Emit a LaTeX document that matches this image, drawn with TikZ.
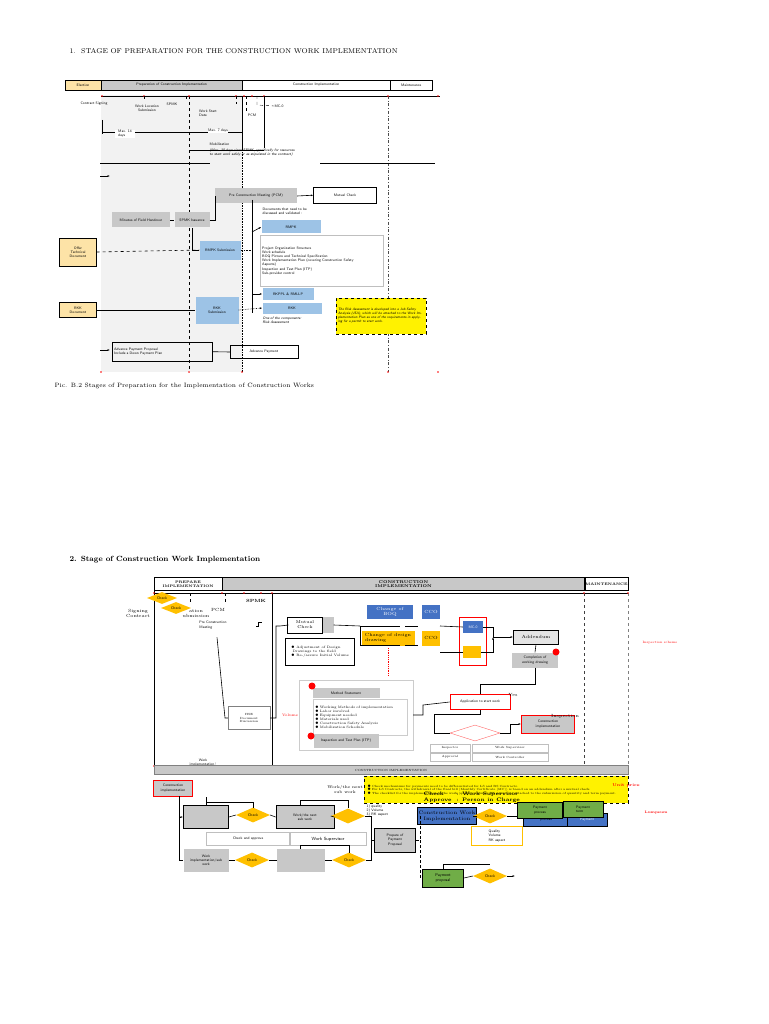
\documentclass[tikz,border=0pt]{standalone}
\usetikzlibrary{positioning, shapes.geometric, arrows.meta, calc}
\definecolor{hdryellow}{HTML}{FDE3A7}
\definecolor{hdrgray}{HTML}{C8C8C8}
\definecolor{lightblue}{HTML}{9DC3E6}
\definecolor{midblue}{HTML}{4472C4}
\definecolor{amber}{HTML}{FFC000}
\definecolor{bggray}{HTML}{F2F2F2}
\definecolor{okgreen}{HTML}{70AD47}
\tikzset{
  txt/.style={font=\fontsize{3.6}{4.2}\selectfont\sffamily, align=left, inner sep=0.5pt},
  stxt/.style={font=\fontsize{4.5}{5}\selectfont, align=center, inner sep=0.5pt},
  box/.style={draw, line width=0.4pt, font=\fontsize{3.6}{4.2}\selectfont\sffamily, align=center, inner sep=1pt},
  gbox/.style={box, draw=none, fill=hdrgray},
  bbox/.style={box, draw=none, fill=lightblue},
  ybox/.style={box, fill=hdryellow},
  rbox/.style={box, draw=red, line width=0.8pt},
  chk/.style={diamond, aspect=2.2, fill=amber, inner sep=0.5pt, minimum width=34, minimum height=15, font=\fontsize{3.8}{4}\selectfont\sffamily},
  rdot/.style={circle, fill=red, inner sep=0pt, minimum size=1.8},
  bdot/.style={circle, fill=red, inner sep=0pt, minimum size=7},
  con/.style={line width=0.6pt},
  arr/.style={con, -{Latex[length=2.5pt]}}
}
\begin{document}
\begin{tikzpicture}[x=1pt, y=-1pt]
  \useasboundingbox (0,0) rectangle (768,1024);
  % ---------------- part 1 ----------------
  \node[anchor=west, font=\fontsize{7}{8}\selectfont] (t1) at (66,51) {1.\ \ STAGE OF PREPARATION FOR THE CONSTRUCTION WORK IMPLEMENTATION};
  \fill[bggray] (101,95) rectangle (242,372);
  \node[ybox, minimum width=36, minimum height=10] (elec) at (83,85) {Election};
  \node[gbox, draw, minimum width=141, minimum height=10, anchor=west] (prep) at (101,85) {Preparation of Construction Implementation};
  \node[box, minimum width=148, minimum height=10, anchor=west] (cimp) at (242,85) {Construction Implementation};
  \node[box, minimum width=42, minimum height=10, anchor=west] (mnt) at (390,85) {Maintenance};
  \draw[con] (101,96) -- (440,96);
  \draw[dashed, con] (189,96) -- (189,372);
  \draw[densely dotted, con] (242,96) -- (242,372);
  \draw[dash dot, con, gray!60!black] (388,96) -- (388,372);
  \foreach \x in {102,144,189,236,244,252,264,388,438} \node[rdot] at (\x,96) {};
  \foreach \x in {101,189,242,388,438} \node[rdot] at (\x,372) {};
  \node[txt] (csg) at (94,104) {Contract Signing};
  \node[txt, align=center] (wls) at (147,108) {Work Location\\Submission};
  \node[txt] (spmk) at (172,104) {SPMK};
  \node[txt] (wsd) at (208,113) {Work Start\\Date};
  \node[txt] (pcm) at (252,115) {PCM};
  \node[txt] (mc0) at (279,106) {MC-0};
  \draw[dashed] (144,96) -- (144,101);
  \draw[dashed] (186,96) -- (186,102);
  \draw[dashed] (236,96) -- (236,104);
  \draw[dashed] (246,96) -- (246,110) -- (250,110);
  \draw[dashed] (257,96) -- (257,105) -- (mc0.west);
  \draw[con] (102,120) -- (102,134);
  \draw[con] (102,132) -- (242,132);
  \draw[con] (242,96) -- (242,150);
  \draw[con] (264,96) -- (264,148);
  \node[txt, fill=white, minimum width=20] (m14) at (125,134) {Max. 14\\days};
  \node[txt, fill=white] (m7) at (218,131) {Max. 7 days};
  \draw[con] (189,150) -- (264,150);
  \node[txt, anchor=west] (mob) at (209,144) {Mobilization};
  \node[txt, anchor=north west, font=\fontsize{3.6}{4.2}\selectfont\sffamily\itshape] (mobn) at (209,148) {(Max. 30 days since SPMK, specifically for resources\\to start work safely or as stipulated in the contract)};
  \draw[con] (100,163) -- (210,163);
  \draw[con] (320,163) -- (435,163);
  \draw[arr] (100,176) -- (110,176);
  \node[gbox, minimum width=82, minimum height=15] (pcmm) at (256,196) {Pre Construction Meeting (PCM)};
  \node[box, minimum width=63, minimum height=16, anchor=north] (mchk) at (345,187) {Mutual Check};
  \draw[arr] (pcmm.east) -- (mchk.west);
  \node[txt, anchor=west] (docs) at (262,211) {Documents that need to be\\discussed and validated :};
  \node[gbox, minimum width=58, minimum height=15] (mfh) at (141,220) {Minutes of Field Handover};
  \node[gbox, minimum width=35, minimum height=15] (spi) at (192,220) {SPMK Issuance};
  \draw[con] (spi.east) -- (215,220) -- (215,196) -- (pcmm.west);
  \draw[con] (mfh.east) -- (spi.west);
  \node[bbox, minimum width=59, minimum height=13] (rmpk) at (291,227) {RMPK};
  \node[box, draw=gray!50, anchor=north west, minimum width=123, minimum height=51, align=left, text width=119] (lst) at (260,235) {Project Organization Structure\\Work schedule\\BOQ Picture and Technical Specification\\Work Implementation Plan (covering Construction Safety\\Aspects)\\Inspection and Test Plan (ITP)\\Sub-provider control};
  \node[ybox, minimum width=37, minimum height=28, align=center] (otd) at (78,252) {Offer\\Technical\\Document};
  \node[bbox, minimum width=41, minimum height=19] (rmps) at (220,250) {RMPK Submission};
  \draw[con, dashed] (otd.east) -- (rmps.west);
  \draw[con] (192,228) -- (192,250) -- (rmps.west);
  \node[ybox, minimum width=37, minimum height=15, align=center] (rkd) at (78,310) {RKK\\Document};
  \node[bbox, minimum width=43, minimum height=27, align=center] (rkks) at (217,310) {RKK\\Submission};
  \draw[con] (rkd.east) -- (rkks.west);
  \draw[con] (252,200) -- (252,313);
  \node[bbox, minimum width=51, minimum height=12] (rkppl) at (288,294) {RKPPL \& RMLLP};
  \node[bbox, minimum width=59, minimum height=11] (rkk) at (292,308) {RKK};
  \draw[arr] (252,232) -- (rmpk.west);
  \draw[arr] (252,294) -- (rkppl.west);
  \draw[arr, densely dotted] (rkks.east) -- (rkk.west);
  \draw[densely dotted, con] (rmps.east) -- (252,250);
  \node[txt, anchor=north west, font=\fontsize{3.6}{4.2}\selectfont\sffamily\itshape] (rka) at (262,316) {One of the components:\\Risk Assessment};
  \node[box, fill=yellow, dashed, line width=0.8pt, minimum width=90, minimum height=36, text width=86, align=left, font=\fontsize{3.4}{4}\selectfont\sffamily\itshape] (note1) at (381,316) {The Risk Assessment is developed into a Job Safety Analysis (JSA), which will be attached to the Work Implementation Plan as one of the requirements in applying for a permit to start work.};
  \node[box, anchor=north west, minimum width=100, minimum height=19, align=left, text width=96] (app) at (112,342) {Advance Payment Proposal\\Include a Down Payment Plan};
  \node[box, minimum width=68, minimum height=13, align=left] (ap) at (264,352) {Advance Payment};
  \draw[arr] (100,350) -- (110,350);
  \draw[con] (app.east) -- (ap.west);
  \node[anchor=west, font=\fontsize{6.2}{7}\selectfont] (cap) at (51,386) {Pic. B.2 Stages of Preparation for the Implementation of Construction Works};
  % ---------------- part 2 ----------------
  \node[anchor=west, font=\fontsize{7.5}{8}\selectfont\bfseries] (t2) at (66,560) {2. Stage of Construction Work Implementation};
  \node[box, minimum width=68, minimum height=13, font=\fontsize{3.6}{4}\selectfont\bfseries] (pimp) at (188,584) {PREPARE\\IMPLEMENTATION};
  \node[gbox, draw, minimum width=363, minimum height=13, font=\fontsize{4}{4.5}\selectfont\bfseries] (ci2) at (403.5,584) {CONSTRUCTION\\IMPLEMENTATION};
  \node[box, minimum width=43, minimum height=13, font=\fontsize{3.6}{4}\selectfont\bfseries] (mt2) at (606.5,584) {MAINTENANCE};
  \draw[con] (154,593) -- (628,593);
  \draw[con] (154,591) -- (154,766);
  \draw[con] (272,593) -- (272,766);
  \draw[dashed, con, gray!50!black] (584,593) -- (584,766);
  \draw[dashed, con, gray] (628,593) -- (628,766);
  \draw[line width=1.5pt, gray!70!black] (154,766) -- (628,766);
  \foreach \x in {154,222,244,261,272,584,628} \node[rdot] at (\x,593) {};
  \foreach \x in {154,272,584,628} \node[rdot] at (\x,766) {};
  \node[stxt] (sc) at (138,613) {Signing\\Contract};
  \node[chk, minimum width=30, minimum height=12] (ck1) at (162,598) {Check};
  \node[chk, minimum width=30, minimum height=12] (ck2) at (176,608) {Check};
  \node[stxt] (wlsb) at (196,614) {ation\\ubmission};
  \node[stxt] (pcm2) at (218,610) {PCM};
  \node[txt] (pcmt) at (213,625) {Pre Construction\\Meeting};
  \node[stxt, font=\fontsize{4.5}{5}\selectfont\bfseries] (spmk2) at (256,601) {SPMK};
  \draw[dashed] (190,593) -- (190,604);
  \draw[dashed] (225,593) -- (225,602);
  \node[gbox, minimum width=45, minimum height=16] (mc2b) at (311,625) {};
  \node[box, fill=white, minimum width=35, minimum height=16, font=\fontsize{4.2}{5}\selectfont, line width=0.8pt] (mc2) at (305,625) {Mutual\\Check};
  \node[box, minimum width=69, minimum height=27, line width=0.8pt, align=left, font=\fontsize{3.4}{4}\selectfont] (adj) at (320,652) {$\bullet$ Adjustment of Design\\ \ Drawings to the field\\$\bullet$ Re-/assure Initial Volume};
  \node[box, draw=none, fill=midblue, text=white, minimum width=46, minimum height=14, font=\fontsize{4.5}{5}\selectfont] (boq) at (390,612) {Change of\\BOQ};
  \node[box, draw=none, fill=midblue, text=white, minimum width=18, minimum height=14, font=\fontsize{4.5}{5}\selectfont] (cco1) at (431,612) {CCO};
  \node[box, draw=none, fill=amber, minimum width=53, minimum height=15, font=\fontsize{4.5}{5}\selectfont, align=left] (cdd) at (388,638) {Change of design\\drawing};
  \node[box, draw=none, fill=amber, minimum width=18, minimum height=15, font=\fontsize{4.5}{5}\selectfont] (cco2) at (431,638) {CCO};
  \draw[con] (mc2b.east) -- (360,626);
  \draw[con] (360,626) -- (360,626) (360,626) -- (400,626) (405,626) -- (418,626);
  \draw[con] (360,626) -- (360,645) -- (400,645);
  \draw[con] (405,645) -- (418,645);
  \node[rbox, minimum width=27, minimum height=48] (redf) at (473,641) {};
  \node[box, draw=none, fill=midblue, text=white, minimum width=20, minimum height=12] (mc0b) at (473,627) {MC-0};
  \node[box, draw=none, fill=amber, minimum width=18, minimum height=12] (ylw) at (472,652) {};
  \draw[con] (440,626) -- (mc0b.west);
  \draw[con] (440,652) -- (ylw.west);
  \node[box, line width=0.8pt, fill=hdrgray!50, minimum width=45, minimum height=14, font=\fontsize{4.5}{5}\selectfont] (add) at (536,637) {Addendum};
  \draw[arr] (mc0b.east) -- (493,627) -- (493,637) -- (add.west);
  \draw[arr] (ylw.east) -- (493,652) -- (493,637);
  \node[gbox, minimum width=46, minimum height=15] (cwd) at (535,660) {Completion of\\working drawing};
  \draw[con] (add.south) -- (cwd.north);
  \node[bdot] at (556,652) {};
  \draw[densely dotted, red, line width=0.8pt] (388,648) -- (388,676);
  \node[box, draw=gray!40, minimum width=114, minimum height=70] (msa) at (356,715) {};
  \node[gbox, minimum width=67, minimum height=10] (ms) at (346,693) {Method Statement};
  \node[box, draw=gray!40, minimum width=94, minimum height=36, align=left, text width=90, font=\fontsize{3.4}{4}\selectfont] (msl) at (360,717) {$\bullet$ Working Methods of implementation\\$\bullet$ Labor involved\\$\bullet$ Equipment needed\\$\bullet$ Materials used\\$\bullet$ Construction Safety Analysis\\$\bullet$ Mobilization Schedule};
  \node[gbox, minimum width=65, minimum height=14] (itp) at (346,741) {Inspection and Test Plan (ITP)};
  \node[bdot] at (312,686) {};
  \node[bdot] at (311,736) {};
  \node[stxt, text=red, font=\fontsize{3.6}{4}\selectfont] (vol) at (290,715) {Volume};
  \node[box, draw=gray, minimum width=42, minimum height=23, font=\fontsize{3}{3.5}\selectfont] (hse) at (249,718) {HSE\\Document\\Discussion};
  \draw[con] (pcmt.south) ++(4,8) -- (225,718) -- (hse.west);
  \draw[con] (hse.east) -- (276,718) -- (276,626) -- (280,626) -- (mc2b.west);
  \draw[con] (256,626) -- (258,626) -- (258,622) -- (262,622);
  \node[rbox, fill=white, minimum width=60, minimum height=15] (asw) at (480,702) {Application to start work};
  \node[stxt] (yes) at (513,695) {Yes};
  \draw[con] (msa.east) -- (423,715) -- (423,705) -- (asw.west);
  \draw[con] (cwd.south) -- (535,684) -- (480,684) -- (asw.north);
  \node[diamond, aspect=2.6, draw=red!60, minimum width=50, minimum height=16, inner sep=0pt] (dec) at (475,733) {};
  \node[rbox, fill=hdrgray, minimum width=53, minimum height=18] (cimpl) at (548,724) {Construction\\implementation};
  \node[stxt] (insp) at (565,716) {Inspection};
  \draw[con] (asw.south) -- (480,714) -- (434,714) -- (434,733) -- (dec.west);
  \draw[arr] (dec.east) -- (510,733) -- (510,724) -- (cimpl.west);
  \node[box, draw=gray!50, minimum width=40, minimum height=8, font=\fontsize{3}{3.5}\selectfont] (t11) at (450,748) {Inspector};
  \node[box, draw=gray!50, minimum width=76, minimum height=8, font=\fontsize{3}{3.5}\selectfont] (t12) at (510,748) {Work Supervisor};
  \node[box, draw=gray!50, minimum width=40, minimum height=8, font=\fontsize{3}{3.5}\selectfont] (t21) at (450,757) {Approval};
  \node[box, draw=gray!50, minimum width=76, minimum height=8, font=\fontsize{3}{3.5}\selectfont] (t22) at (510,757) {Work Controller};
  \node[stxt, text=red, font=\fontsize{3.2}{4}\selectfont] (isch) at (660,643) {Inspection scheme};
  \node[txt, align=center] (wisw) at (203,764) {Work\\implementation/\\sub-work};
  % ---- lower band ----
  \node[gbox, draw=gray, minimum width=474, minimum height=9, font=\fontsize{3}{3.5}\selectfont] (band) at (391,770) {CONSTRUCTION IMPLEMENTATION};
  \node[box, fill=yellow, dashed, line width=0.8pt, minimum width=264, minimum height=27, text width=258, align=left, font=\fontsize{3}{3.6}\selectfont, anchor=north west] (note2) at (364,776) {$\bullet$ Check mechanisms for payments need to be differentiated for LS and RS Contracts.\\$\bullet$ For LS Contracts, the withdrawal of the final bill (Monthly Certificate (MC)) is based on an addendum after a mutual check.\\$\bullet$ The checklist for the implementation of the work (quality, volume, RK aspect) is attached to the submission of quantity and term payment.};
  \node[stxt, font=\fontsize{5}{6}\selectfont\bfseries, anchor=west, align=left] (chkap) at (423,797) {Check\quad\ \ \ : Work Supervisor\\Approve\quad : Person in Charge};
  \node[stxt, text=red, font=\fontsize{4}{5}\selectfont\bfseries] (up) at (626,786) {Unit price};
  \node[stxt, text=red, font=\fontsize{3.5}{5}\selectfont\bfseries] (ls) at (656,813) {Lumpsum};
  \node[rbox, fill=hdrgray, minimum width=39, minimum height=16] (ci3) at (173,788) {Construction\\implementation};
  \node[box, line width=0.8pt, fill=hdrgray, minimum width=45, minimum height=23] (g1) at (206,817) {};
  \node[chk] (c1) at (253,815) {Check};
  \node[box, line width=0.8pt, fill=hdrgray, minimum width=58, minimum height=23] (g2) at (305,817) {Work/the next\\sub work};
  \node[chk] (c2) at (348,816) {};
  \node[stxt, font=\fontsize{4}{5}\selectfont] (wnsw) at (345,790) {Work/the next\\sub work};
  \node[txt, anchor=north west] (qv) at (366,804) {1) quality\\2) Volume\\3) RK aspect};
  \node[box, draw=gray!50, minimum width=83, minimum height=13] (cna) at (248,839) {Check and approve};
  \node[box, draw=gray!50, minimum width=76, minimum height=13, font=\fontsize{4.5}{5}\selectfont\sffamily] (ws) at (328,839) {Work Supervisor};
  \node[gbox, minimum width=45, minimum height=23] (wis) at (206,860) {Work\\implementation/sub\\work};
  \node[chk] (c3) at (252,860) {Check};
  \node[gbox, minimum width=48, minimum height=23] (g4) at (301,860) {};
  \node[chk] (c4) at (349,860) {Check};
  \node[box, line width=0.8pt, fill=hdrgray, minimum width=41, minimum height=24] (ppp) at (395,840) {Prepare of\\Payment\\Proposal};
  \draw[con] (179,796) -- (179,860) -- (wis.west);
  \draw[arr] (179,817) -- (g1.west);
  \draw[con] (g1.east) -- (c1.west);
  \draw[con] (c1.east) -- (g2.west);
  \draw[con] (g2.east) -- (c2.west);
  \draw[con] (wis.east) -- (c3.west);
  \draw[con] (c3.east) -- (g4.west);
  \draw[con] (g4.east) -- (c4.west);
  \draw[con] (c2.east) -- (371,816) -- (371,860) -- (c4.east);
  \draw[con] (371,840) -- (ppp.west);
  \draw[con] (206,797) -- (206,805);
  \draw[con] (206,802) -- (253,802) -- (253,808);
  \draw[con] (300,805) -- (300,800) -- (348,800) -- (348,808);
  \draw[con] (300,849) -- (300,845) -- (349,845) -- (349,853);
  \node[box, line width=0.8pt, fill=midblue, minimum width=48, minimum height=17, font=\fontsize{5}{6}\selectfont] (cwi) at (447,816) {Construction Work\\Implementation};
  \node[chk] (c5) at (490,816) {Check};
  \node[box, fill=midblue, minimum width=46, minimum height=13] (pp) at (546,820) {process};
  \node[box, line width=0.8pt, fill=okgreen, minimum width=45, minimum height=16] (ppg) at (540,810) {Payment\\process};
  \node[box, fill=midblue, minimum width=40, minimum height=13, text=white] (pt) at (587,820) {Payment};
  \node[box, line width=0.8pt, fill=okgreen, minimum width=40, minimum height=16, align=left] (ptg) at (583,809) {Payment\\term};
  \draw[con] (cwi.east) -- (c5.west);
  \draw[con] (c5.east) -- (ppg.west |- c5.east);
  \node[box, draw=amber, minimum width=51, minimum height=19, align=left] (qva) at (497,836) {Quality\\Volume\\RK aspect};
  \node[box, line width=0.8pt, fill=okgreen, minimum width=41, minimum height=18, font=\fontsize{4}{5}\selectfont\sffamily] (pprop) at (443,878) {Payment\\proposal};
  \node[chk] (c6) at (490,876) {Check};
  \draw[con] (pprop.east) -- (c6.west);
  \draw[arr] (c6.east) -- (515,876);
  \draw[con] (443,869) -- (443,864) -- (490,864);
  \draw[con, densely dashed] (ppp.east) -- (420,840) -- (420,816) -- (cwi.west);
  \draw[con, densely dashed] (420,840) -- (420,878) -- (pprop.west);
\end{tikzpicture}
\end{document}
